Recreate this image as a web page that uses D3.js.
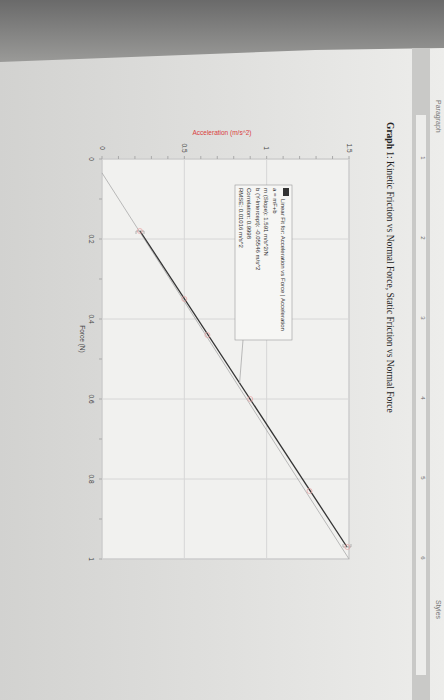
<!DOCTYPE html>
<html><head><meta charset="utf-8">
<script src="https://cdn.jsdelivr.net/npm/d3@7"></script>
<style>body{margin:0;background:#e4e4e2}</style></head>
<body><svg id="c" width="444" height="700"></svg>
<script>
const forceN = [0.18, 0.35, 0.44, 0.60, 0.83, 0.97];
const accel = [0.23, 0.50, 0.64, 0.90, 1.26, 1.49];
const slope = 1.591, intercept = -0.05546;
const accelTicks = [0, 0.5, 1, 1.5];
const forceTicks = [0, 0.2, 0.4, 0.6, 0.8, 1];
const fitLines = ["Linear Fit for: Acceleration vs Force | Acceleration","a = mF+b","m (Slope): 1.591 m/s^2/N","b (Y-Intercept): -0.05546 m/s^2","Correlation: 0.9998","RMSE: 0.01016 m/s^2"];
const title = "Graph 1: Kinetic Friction vs Normal Force, Static Friction vs Normal Force";

const svg = d3.select("#c");
const defs = svg.append("defs");
const g1 = defs.append("linearGradient").attr("id","pg").attr("x1",0).attr("x2",1).attr("y1",0).attr("y2",0);
g1.append("stop").attr("offset",0).attr("stop-color","#d2d2d0");
g1.append("stop").attr("offset",1).attr("stop-color","#ededeb");
svg.append("rect").attr("width",444).attr("height",700).attr("fill","url(#pg)");
const g2 = defs.append("linearGradient").attr("id","tg").attr("x1",0).attr("x2",0).attr("y1",0).attr("y2",1);
g2.append("stop").attr("offset",0).attr("stop-color","#6a6a6a");
g2.append("stop").attr("offset",1).attr("stop-color","#9a9a98");
svg.append("path").attr("d","M0,0H444V48L315,50L0,62Z").attr("fill","url(#tg)");
svg.append("rect").attr("x",412).attr("y",48).attr("width",18).attr("height",652).attr("fill","#c9c9c7");
svg.append("rect").attr("x",416).attr("y",115).attr("width",10).attr("height",560).attr("fill","#ededeb");
for(let i=0;i<6;i++){
  svg.append("text").attr("transform",`translate(421,${158+i*80}) rotate(90)`).attr("font-size",6).attr("fill","#666").attr("text-anchor","middle").attr("font-family","Liberation Sans").text(i+1);
}
svg.append("text").attr("transform","translate(436,100) rotate(90)").attr("font-size",7).attr("fill","#777").attr("font-family","Liberation Sans").text("Paragraph");
svg.append("text").attr("transform","translate(436,600) rotate(90)").attr("font-size",7).attr("fill","#777").attr("font-family","Liberation Sans").text("Styles");

const x = d3.scaleLinear().domain([0,1.5]).range([102,349]);
const y = d3.scaleLinear().domain([0,1]).range([159,559]);
const plot = svg.append("g");
plot.append("rect").attr("x",x(0)).attr("y",y(0)).attr("width",x(1.5)-x(0)).attr("height",y(1)-y(0)).attr("fill","#f1f1ef").attr("stroke","#bbb");
accelTicks.forEach(t=>plot.append("line").attr("x1",x(t)).attr("x2",x(t)).attr("y1",y(0)).attr("y2",y(1)).attr("stroke","#d6d6d6"));
forceTicks.forEach(t=>plot.append("line").attr("y1",y(t)).attr("y2",y(t)).attr("x1",x(0)).attr("x2",x(1.5)).attr("stroke","#d6d6d6"));
d3.range(0,1.51,0.1).forEach(t=>plot.append("line").attr("x1",x(t)).attr("x2",x(t)).attr("y1",y(0)-3).attr("y2",y(0)).attr("stroke","#aaa"));
d3.range(0,1.01,0.1).forEach(t=>plot.append("line").attr("y1",y(t)).attr("y2",y(t)).attr("x1",x(0)-3).attr("x2",x(0)).attr("stroke","#aaa"));
const lab = {"font-family":"Liberation Sans","font-size":6.5,"fill":"#444"};
accelTicks.forEach(t=>{const tx=plot.append("text").attr("transform",`translate(${x(t)},148) rotate(90)`).attr("text-anchor","middle").attr("dy","0.35em").text(t);Object.entries(lab).forEach(([k,v])=>tx.attr(k,v));});
forceTicks.forEach(t=>{const tx=plot.append("text").attr("transform",`translate(91,${y(t)}) rotate(90)`).attr("text-anchor","middle").attr("dy","0.35em").text(t);Object.entries(lab).forEach(([k,v])=>tx.attr(k,v));});
plot.append("text").attr("x",222).attr("y",135).attr("text-anchor","middle").attr("font-family","Liberation Sans").attr("font-size",6.5).attr("fill","#d94040").text("Acceleration (m/s^2)");
plot.append("text").attr("transform",`translate(80,${y(0.45)}) rotate(90)`).attr("text-anchor","middle").attr("font-family","Liberation Sans").attr("font-size",6.5).attr("fill","#444").text("Force (N)");

const fx = F=>slope*F+intercept;
const F0 = -intercept/slope, F1 = 1;
plot.append("line").attr("x1",x(fx(F0))).attr("y1",y(F0)).attr("x2",x(Math.min(1.5,fx(F1)))).attr("y2",y(F1)).attr("stroke","#aaa").attr("stroke-width",0.8);
const fmin=d3.min(forceN), fmax=d3.max(forceN);
plot.append("line").attr("x1",x(fx(fmin))).attr("y1",y(fmin)).attr("x2",x(fx(fmax))).attr("y2",y(fmax)).attr("stroke","#333").attr("stroke-width",1.3);
[fmin,fmax].forEach((f,i)=>{const px=x(fx(f)),py=y(f),d=i?-1:1;
  plot.append("path").attr("d",`M${px-4},${py+3*d}V${py}H${px+4}V${py+3*d}`).attr("fill","none").attr("stroke","#999").attr("stroke-width",0.7);});
plot.selectAll("circle.pt").data(forceN).join("circle").attr("cx",(d,i)=>x(accel[i])).attr("cy",d=>y(d)).attr("r",2.5).attr("fill","none").attr("stroke","#e8a0a0").attr("stroke-width",0.7);

const bx=235,by=185,bw=57,bh=155;
plot.append("line").attr("x1",bx+8).attr("y1",by+bh).attr("x2",x(fx(0.56))).attr("y2",y(0.56)).attr("stroke","#aaa").attr("stroke-width",0.8);
plot.append("rect").attr("x",bx).attr("y",by).attr("width",bw).attr("height",bh).attr("fill","#f6f6f4").attr("stroke","#999").attr("stroke-width",0.6);
plot.append("rect").attr("x",bx+bw-9).attr("y",by+3).attr("width",6).attr("height",8).attr("fill","#333");
fitLines.forEach((t,i)=>plot.append("text").attr("dy","0.8em").attr("font-family","Liberation Sans").attr("font-size",6).attr("fill","#333").text(t).attr("transform",`translate(${bx+bw-6-i*8.5},${by+(i?3:14)}) rotate(90)`));

const tt = svg.append("text").attr("transform","translate(387,122) rotate(90)").attr("font-family","Liberation Serif").attr("font-size",9.5).attr("fill","#222");
tt.append("tspan").attr("font-weight","bold").text("Graph");
tt.append("tspan").text(title.slice(5));
</script></body></html>
